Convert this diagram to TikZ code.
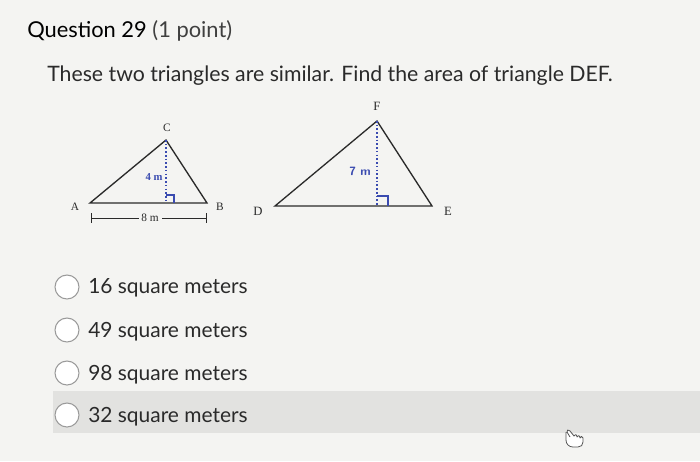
\documentclass[tikz,border=0pt]{standalone}
\usepackage{fontspec}
\setmainfont{Lato}
\newfontfamily\seriflab{Liberation Serif}
\definecolor{bg}{HTML}{F4F4F2}
\definecolor{band}{HTML}{E2E2E0}
\definecolor{ink}{HTML}{2A2A2A}
\definecolor{hblue}{HTML}{3A4BB0}
\definecolor{ring}{HTML}{9A9A9A}
\tikzset{
  tri/.style={draw=ink, line width=1.0pt, line join=miter},
  height/.style={draw=hblue, line width=1.6pt, dash pattern=on 1.2pt off 1.6pt},
  rmark/.style={draw=hblue, line width=0.8pt},
  vlab/.style={font=\seriflab\fontsize{8.5}{9}\selectfont, text=ink, inner sep=0pt},
  mlab/.style={font=\seriflab\bfseries\fontsize{8}{9}\selectfont, text=hblue, inner sep=0pt},
  mlab2/.style={font=\sffamily\bfseries\fontsize{9}{10}\selectfont, text=hblue, inner sep=0pt},
  opt/.style={font=\fontsize{15.7}{17}\selectfont, text=ink, anchor=base west, inner sep=0pt},
  radio/.style={circle, draw=ring, line width=0.8pt, fill=white, minimum size=18pt, inner sep=0pt},
}
\begin{document}
\begin{tikzpicture}[x=0.75pt,y=-0.75pt]
\fill[bg] (0,0) rectangle (700,461);
\useasboundingbox (0,0) rectangle (700,461);
\fill[band] (53,391) rectangle (700,433);

\node[anchor=base west, inner sep=0pt, text=black, font=\fontsize{16.4}{18}\selectfont] (title) at (27,37) {Question 29 \textcolor{ink!90}{(1 point)}};
\node[anchor=base west, inner sep=0pt, text=ink, font=\fontsize{15.95}{17}\selectfont] (prompt) at (47,81) {These two triangles are similar. Find the area of triangle DEF.};

% triangle ABC
\coordinate (A) at (90,203);
\coordinate (B) at (207,203);
\coordinate (C) at (166,140);
\coordinate (H1) at (166,203);
\draw[tri] (A) -- (B) -- (C) -- cycle;
\draw[height] (C) -- (H1);
\draw[rmark] (166,195) -- (174,195) -- (174,203);
\node[vlab] (lC) at (167,128) {C};
\node[vlab] (lA) at (75,207) {A};
\node[vlab] (lB) at (220,207) {B};
\node[mlab] (l4) at (154,177) {4 m};
\coordinate (d1) at (91,218);
\coordinate (d2) at (206,218);
\draw[ink, line width=0.7pt] (d1) -- (139,218);
\draw[ink, line width=0.7pt] (162,218) -- (d2);
\draw[ink, line width=0.7pt] (91,213) -- (91,223);
\draw[ink, line width=0.7pt] (206,213) -- (206,223);
\node[vlab] (l8) at (150,218) {8 m};

% triangle DEF
\coordinate (D) at (275,206);
\coordinate (E) at (432,206);
\coordinate (F) at (377,121);
\coordinate (H2) at (377,206);
\draw[tri] (D) -- (E) -- (F) -- cycle;
\draw[height] (F) -- (H2);
\draw[rmark] (377,196) -- (388,196) -- (388,206);
\node[vlab, font=\seriflab\fontsize{9.5}{10}\selectfont] (lF) at (377,106) {F};
\node[vlab, font=\seriflab\fontsize{9.5}{10}\selectfont] (lD) at (258,211) {D};
\node[vlab, font=\seriflab\fontsize{9.5}{10}\selectfont] (lE) at (448,211) {E};
\node[mlab2] (l7) at (360,171) {7 m};

% options
\node[radio] (r1) at (67,287) {};
\node[radio] (r2) at (67,330) {};
\node[radio] (r3) at (67,373) {};
\node[radio] (r4) at (67,415) {};
\node[opt] (o1) at (88,293) {16 square meters};
\node[opt] (o2) at (88,337) {49 square meters};
\node[opt] (o3) at (88,380) {98 square meters};
\node[opt] (o4) at (88,422) {32 square meters};

% cursor hand
\draw[ink!80, line width=0.6pt, line join=round, fill=white]
  (566,432) -- (566,440) .. controls (566,444) and (569,447) .. (573,447)
  -- (578,447) .. controls (581,447) and (583,445) .. (583,442)
  -- (583,438) .. controls (583,436) and (580,436) .. (580,438)
  .. controls (580,435) and (577,435) .. (577,437)
  .. controls (577,434) and (574,434) .. (574,436)
  -- (574,436) -- (570,431) .. controls (569,429) and (566,430) .. (567,432)
  -- (570,437);
\end{tikzpicture}
\end{document}
